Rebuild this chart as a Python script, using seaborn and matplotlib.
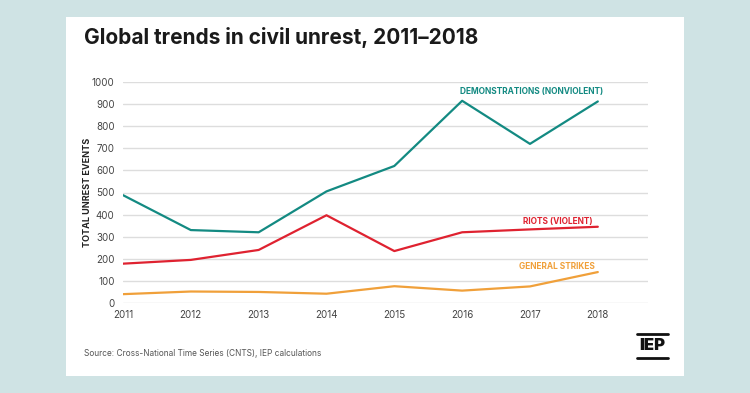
import pandas as pd
import matplotlib.pyplot as plt
import seaborn as sns

# data
years = [2011, 2012, 2013, 2014, 2015, 2016, 2017, 2018]
demonstrations = [488, 330, 320, 505, 620, 915, 720, 912]
riots = [178, 195, 240, 397, 235, 320, 333, 345]
strikes = [40, 52, 50, 42, 76, 56, 75, 140]

series_names = ["DEMONSTRATIONS (NONVIOLENT)", "RIOTS (VIOLENT)", "GENERAL STRIKES"]
colors = ["#138a82", "#df2230", "#f0a03a"]

df = pd.DataFrame({"year": years * 3,
                   "events": demonstrations + riots + strikes,
                   "series": [s for s in series_names for _ in years]})

sns.set_style("white")
plt.rcParams["font.family"] = ["Inter", "DejaVu Sans"]

fig = plt.figure(figsize=(7.5, 3.93), dpi=100)
fig.patch.set_facecolor("#cfe3e4")
# white card
fig.add_artist(plt.Rectangle((66 / 750, 1 - 376 / 393), (684 - 66) / 750, (376 - 17) / 393,
                             transform=fig.transFigure, facecolor="white", edgecolor="none", zorder=0))

ax = fig.add_axes([123 / 750, 1 - 303 / 393, (648 - 123) / 750, (303 - 82) / 393])
ax.set_facecolor("none")
sns.lineplot(data=df, x="year", y="events", hue="series", palette=colors,
             linewidth=1.6, legend=False, ax=ax)

ax.set_xlim(2011, 2018.74)
ax.set_ylim(0, 1000)
ax.set_xticks(years)
ax.set_yticks(range(0, 1001, 100))
ax.grid(axis="y", color="#dddddd", linewidth=1)
ax.set_axisbelow(True)
for s in ax.spines.values():
    s.set_visible(False)
ax.tick_params(axis="both", length=0, labelsize=7, labelcolor="#444444")
ax.tick_params(axis="y", pad=6)
ax.tick_params(axis="x", pad=5)
ax.set_xlabel("")
ax.set_ylabel("TOTAL UNREST EVENTS", fontsize=6.5, fontweight="bold", color="#222222", labelpad=0)

# inline series labels
ax.text(2017.02, 955, series_names[0], color=colors[0], fontsize=6, fontweight="bold", ha="center", va="center")
ax.text(2017.92, 370, series_names[1], color=colors[1], fontsize=6, fontweight="bold", ha="right", va="center")
ax.text(2017.95, 165, series_names[2], color=colors[2], fontsize=6, fontweight="bold", ha="right", va="center")

fig.text(84 / 750, 1 - 37 / 393, "Global trends in civil unrest, 2011–2018", fontsize=15,
         fontweight="bold", color="#1a1a1a", va="center")
fig.text(84 / 750, 1 - 354 / 393, "Source: Cross-National Time Series (CNTS), IEP calculations",
         fontsize=6, color="#555555", va="center")

# IEP logo
fig.text(652 / 750, 1 - 346 / 393, "IEP", fontsize=12, fontweight="black", color="#111111",
         ha="center", va="center")
for yy in (334, 358):
    fig.add_artist(plt.Line2D([637 / 750, 668 / 750], [1 - yy / 393] * 2, color="#111111",
                              linewidth=2, transform=fig.transFigure))

fig.savefig("out.png", dpi=100, facecolor=fig.get_facecolor())
